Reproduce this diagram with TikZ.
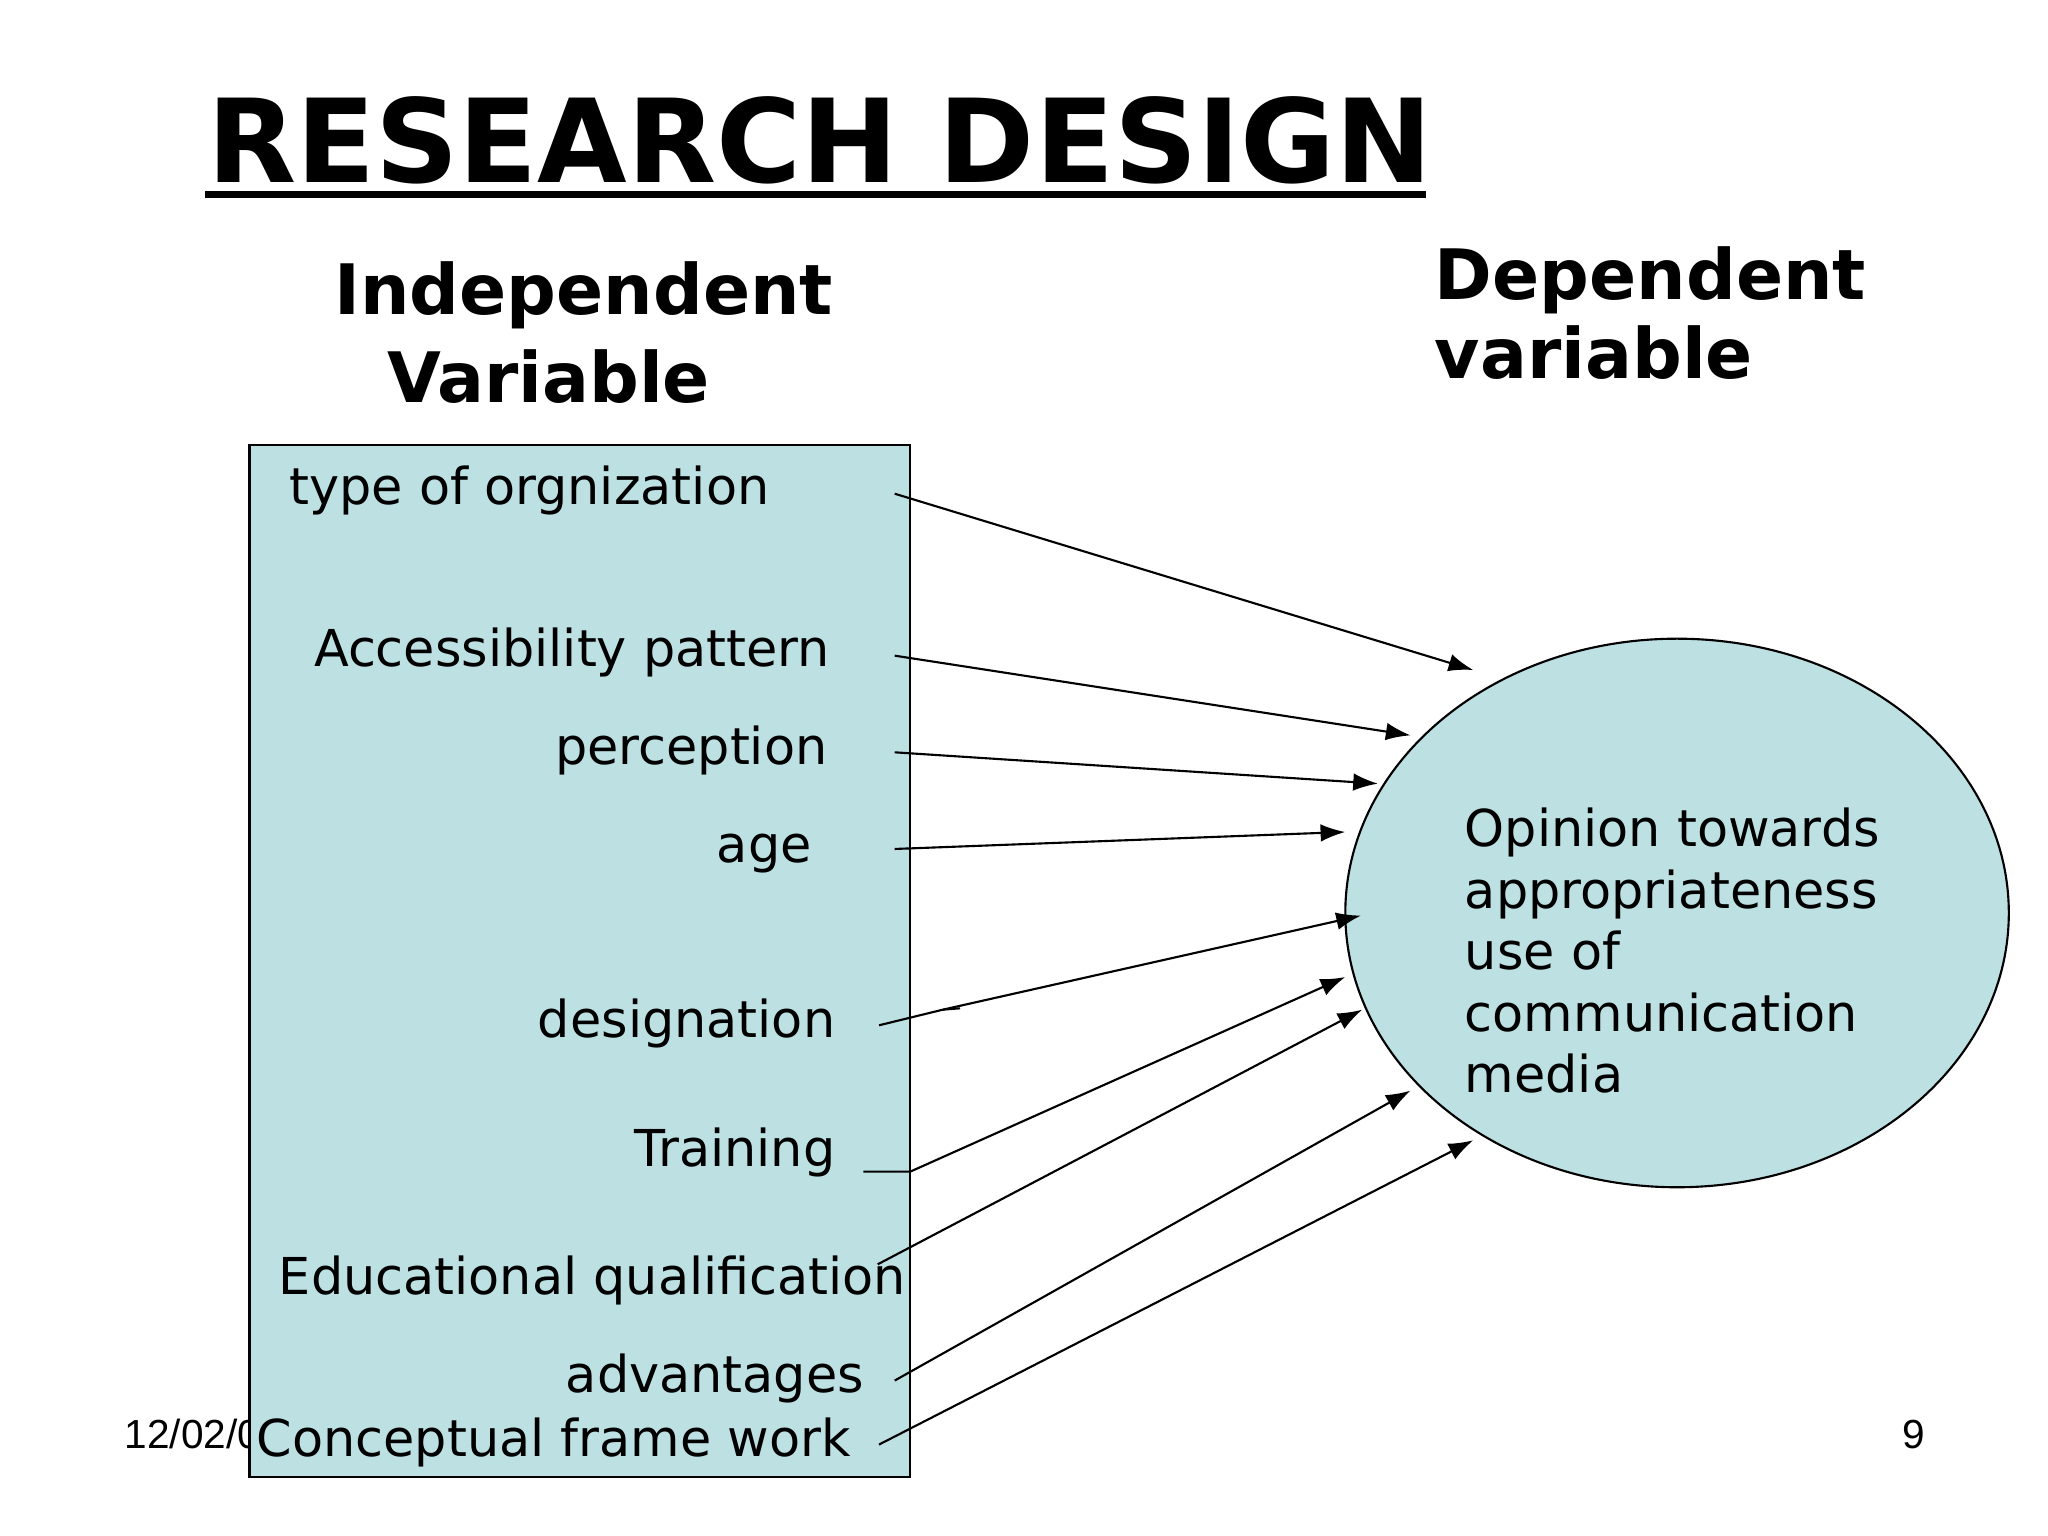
\documentclass[tikz,border=0pt]{standalone}
\usepackage{fontspec}
\setmainfont{DejaVu Sans}
\newfontfamily\arialf{Liberation Sans}
\usetikzlibrary{arrows.meta}
\definecolor{boxfill}{HTML}{BDE0E3}
\begin{document}
\begin{tikzpicture}[x=0.013cm,y=-0.013cm,
  lbl/.style={font=\fontsize{14.4}{17.4}\selectfont,inner sep=0pt},
  hdr/.style={font=\fontsize{19.7}{24}\selectfont\bfseries,inner sep=0pt},
  arr/.style={-{Latex[length=7pt,width=5pt]},line width=0.6pt},
  ln/.style={line width=0.6pt}]
\useasboundingbox[fill=white] (0,0) rectangle (1568,1176);
\node[anchor=base west,inner sep=0pt,font=\fontsize{32.8}{40}\selectfont\bfseries] (title) at (158,140) {RESEARCH DESIGN};
\draw[line width=2.2pt] (157,149) -- (1092,149);
\node[hdr,anchor=base] (iv1) at (447,241) {Independent};
\node[hdr,anchor=base] (iv2) at (420,308) {Variable};
\node[hdr,anchor=base west] (dv1) at (1098,229) {Dependent};
\node[hdr,anchor=base west] (dv2) at (1098,290) {variable};
\node[anchor=base west,inner sep=0pt,font=\arialf\fontsize{11.5}{14}\selectfont] (date) at (95,1109) {12/02/09};
\node[anchor=base,inner sep=0pt,font=\arialf\fontsize{11.5}{14}\selectfont] (pg) at (1465,1109) {9};
\draw[fill=boxfill,line width=0.6pt] (191,341) rectangle (697,1131);
\draw[fill=boxfill,line width=0.6pt] (1284,699) ellipse [x radius=254,y radius=210];
\node[lbl,anchor=west,align=left] (dep) at (1121,728) {Opinion towards\\appropriateness\\use of\\communication\\media};
\node[lbl,anchor=base west] (t1) at (221,386) {type of orgnization};
\node[lbl,anchor=base east] (t2) at (636,510) {Accessibility pattern};
\node[lbl,anchor=base east] (t3) at (634,585) {perception};
\node[lbl,anchor=base east] (t4) at (622,660) {age};
\node[lbl,anchor=base east] (t5) at (640,794) {designation};
\node[lbl,anchor=base east] (t6) at (640,893) {Training};
\node[lbl,anchor=base west] (t7) at (213,991) {Educational qualification};
\node[lbl,anchor=base east] (t8) at (662,1066) {advantages};
\node[lbl,anchor=base west] (t9) at (196,1115) {Conceptual frame work};
\coordinate (a1) at (685,378); \coordinate (b1) at (1128,513);
\coordinate (a2) at (685,502); \coordinate (b2) at (1080,563);
\coordinate (a3) at (685,576); \coordinate (b3) at (1055,600);
\coordinate (a4) at (685,650); \coordinate (b4) at (1030,637);
\coordinate (a5) at (673,785); \coordinate (m5) at (722,773); \coordinate (n5) at (735,772); \coordinate (b5) at (1042,701);
\coordinate (a6) at (661,897); \coordinate (m6) at (697,897); \coordinate (b6) at (1030,748);
\coordinate (a7) at (672,968); \coordinate (b7) at (1043,773);
\coordinate (a8) at (685,1057); \coordinate (b8) at (1080,835);
\coordinate (a9) at (673,1106); \coordinate (b9) at (1128,873);
\draw[arr] (a1) -- (b1);
\draw[arr] (a2) -- (b2);
\draw[arr] (a3) -- (b3);
\draw[arr] (a4) -- (b4);
\draw[arr] (a5) -- (m5) -- (b5);
\draw[ln] (m5) -- (n5);
\draw[arr] (a6) -- (m6) -- (b6);
\draw[arr] (a7) -- (b7);
\draw[arr] (a8) -- (b8);
\draw[arr] (a9) -- (b9);
\end{tikzpicture}
\end{document}
